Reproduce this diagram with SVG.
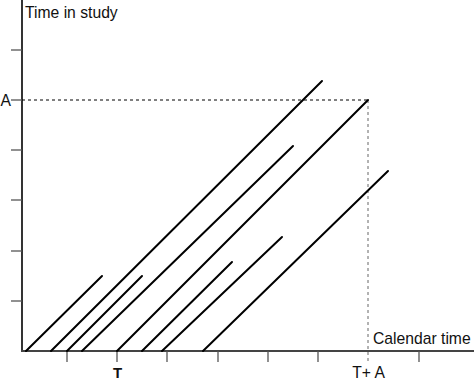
<svg xmlns="http://www.w3.org/2000/svg" width="474" height="381" viewBox="0 0 474 381">
<style>
.lbl{font-family:"Liberation Sans",Arial,sans-serif;font-size:15.7px;fill:#111}
.tick{stroke:#555;stroke-width:1.3}
.path{stroke:#000;stroke-width:2;stroke-linecap:round;fill:none}
</style>
<rect width="474" height="381" fill="#fff"/>
<g id="axes">
<line x1="22" y1="0" x2="22" y2="352" stroke="#000" stroke-width="1.6"/>
<line x1="21" y1="351" x2="474" y2="351" stroke="#444" stroke-width="2"/>
<g class="tick">
<line x1="11" y1="50" x2="22" y2="50"/>
<line x1="11" y1="100" x2="22" y2="100"/>
<line x1="11" y1="150" x2="22" y2="150"/>
<line x1="11" y1="200" x2="22" y2="200"/>
<line x1="11" y1="251" x2="22" y2="251"/>
<line x1="11" y1="301" x2="22" y2="301"/>
<line x1="67" y1="351" x2="67" y2="362"/>
<line x1="117" y1="351" x2="117" y2="362"/>
<line x1="167" y1="351" x2="167" y2="362"/>
<line x1="218" y1="351" x2="218" y2="362"/>
<line x1="268" y1="351" x2="268" y2="362"/>
<line x1="318" y1="351" x2="318" y2="362"/>
<line x1="419" y1="351" x2="419" y2="362"/>
</g>
</g>
<g id="guides">
<line x1="22" y1="100" x2="368" y2="100" stroke="#000" stroke-width="1" stroke-dasharray="3,3"/>
<line x1="368" y1="100" x2="368" y2="361" stroke="#666" stroke-width="1" stroke-dasharray="3,3"/>
</g>
<g id="connectors">
<line class="path" x1="26" y1="351" x2="102" y2="276"/>
<line class="path" x1="51" y1="351" x2="322" y2="81"/>
<line class="path" x1="67" y1="351" x2="142" y2="276"/>
<line class="path" x1="82" y1="351" x2="293" y2="146"/>
<line class="path" x1="117" y1="351" x2="368" y2="100"/>
<line class="path" x1="142" y1="351" x2="232" y2="262"/>
<line class="path" x1="162" y1="351" x2="282" y2="237"/>
<line class="path" x1="203" y1="351" x2="388" y2="171"/>
</g>
<g id="labels">
<text class="lbl" x="25" y="18">Time in study</text>
<text class="lbl" x="11" y="106" text-anchor="end">A</text>
<text class="lbl" x="373" y="344">Calendar time</text>
<text class="lbl" x="117.5" y="378" text-anchor="middle" style="font-size:15px;font-weight:bold">T</text>
<text class="lbl" x="368.5" y="378" text-anchor="middle">T+ A</text>
</g>
</svg>
